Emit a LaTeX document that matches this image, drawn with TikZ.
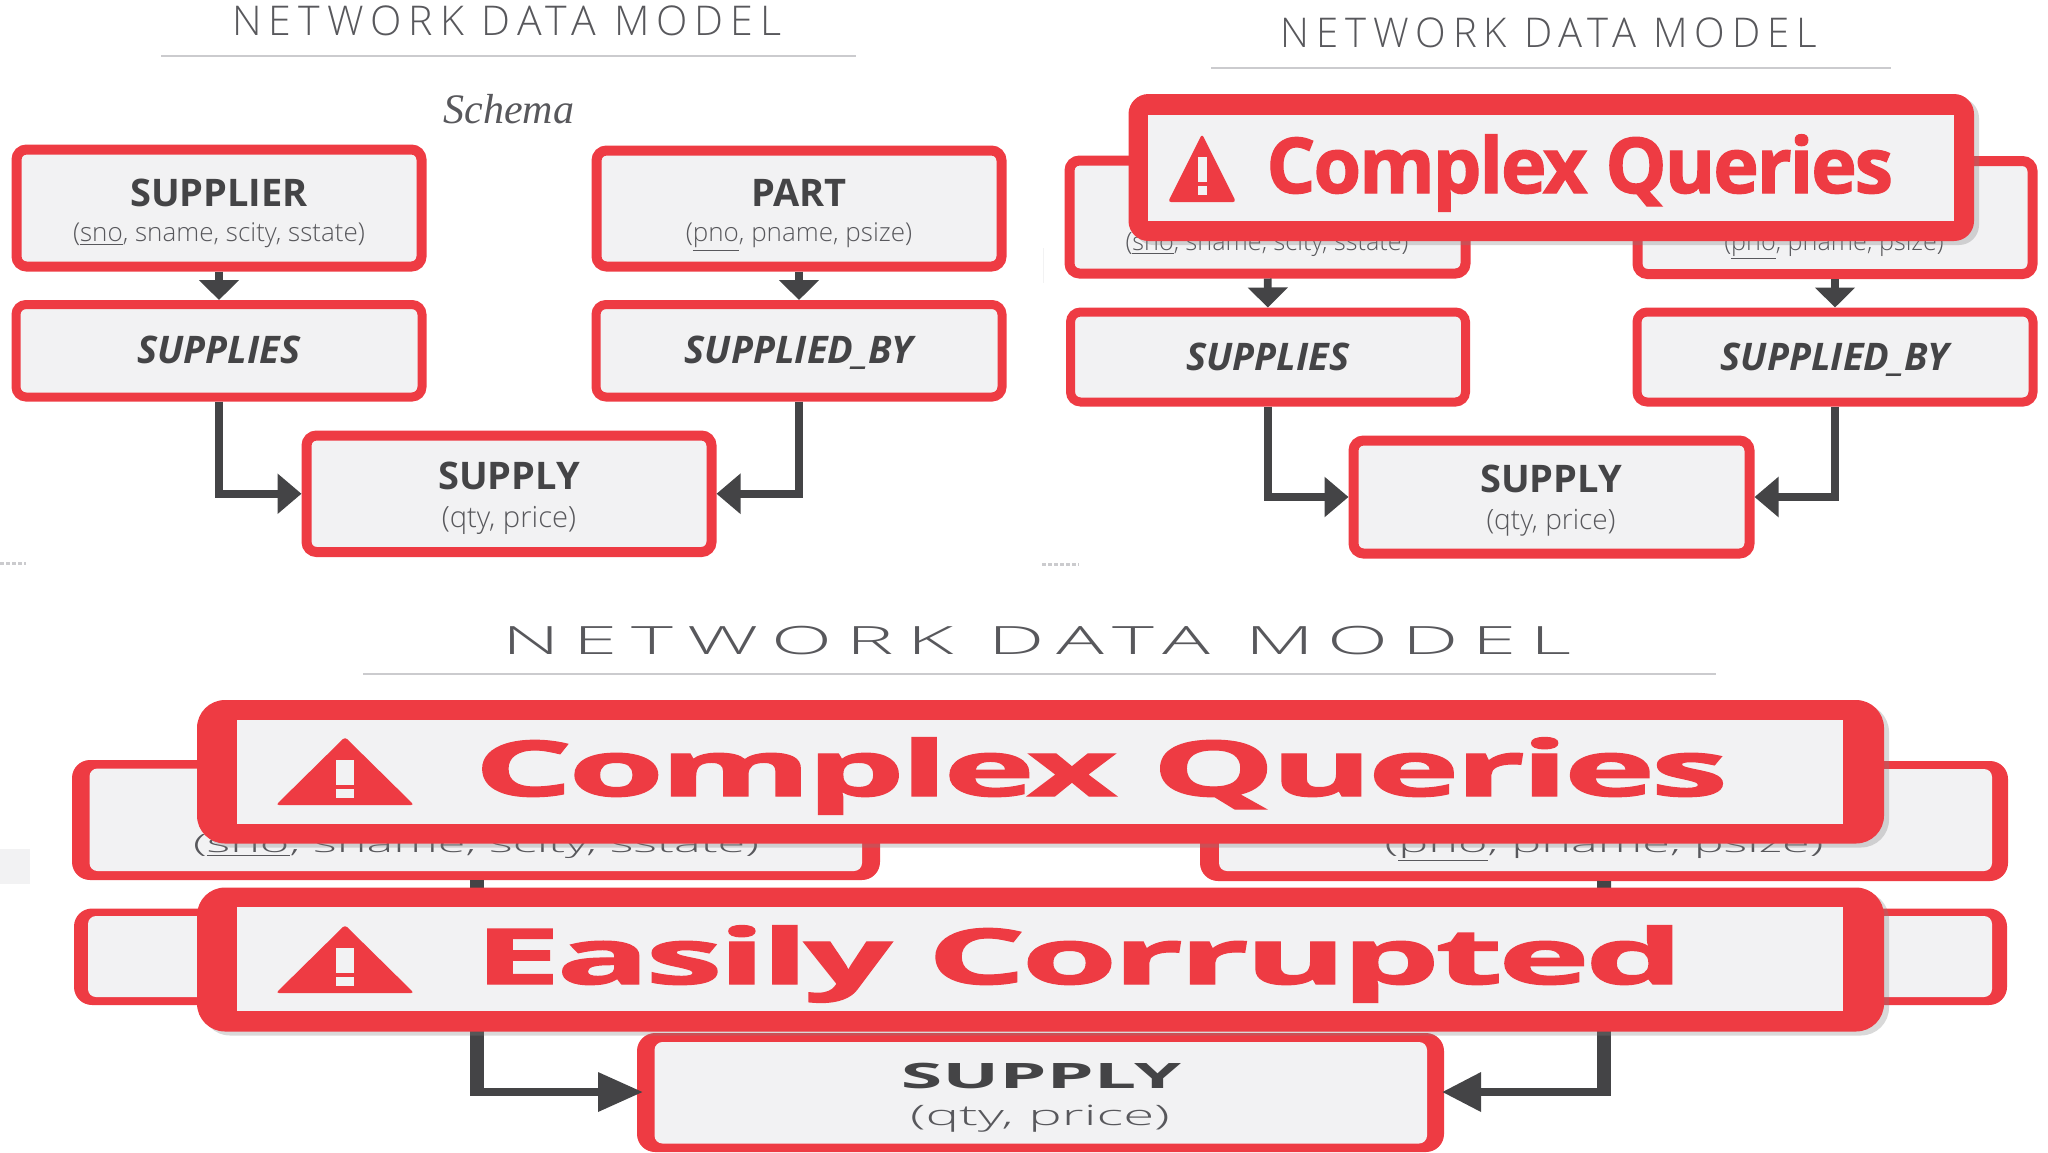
\documentclass[tikz,border=0pt]{standalone}
\usepackage{fontspec}
\setmainfont{Open Sans}
\newfontfamily\titlefont[LetterSpace=17.3]{Open Sans Light}
\newfontfamily\fieldfont{Open Sans Light}
\newfontfamily\alertfont[FakeBold=1.6,LetterSpace=-2.6]{Open Sans Bold}
\newfontfamily\schemafont{Liberation Serif}
\usetikzlibrary{positioning}
\usetikzlibrary{fit}
\usetikzlibrary{arrows.meta}
\usetikzlibrary{shadows}
\definecolor{alertred}{HTML}{EE3B43}
\definecolor{boxgray}{HTML}{F2F2F3}
\definecolor{inkdark}{HTML}{444446}
\definecolor{inksoft}{HTML}{58585C}
\definecolor{rulegray}{HTML}{CBCBCE}
\tikzstyle{entity} = [draw=alertred, fill=boxgray, line width=5pt, rounded corners=5pt, inner sep=0pt]
\tikzstyle{relation} = [entity, line width=4.5pt]
\tikzstyle{wideouter} = [fill=alertred, rounded corners=9pt, inner sep=0pt, outer sep=0pt]
\tikzstyle{wideinner} = [fill=boxgray, rounded corners=4pt, inner sep=0pt, outer sep=0pt]
\tikzstyle{alertouter} = [wideouter, rounded corners=14pt, drop shadow={shadow xshift=2.5pt, shadow yshift=-2pt, opacity=.3}]
\tikzstyle{alertinner} = [fill=boxgray, inner sep=0pt, outer sep=0pt]
\tikzstyle{alerttext} = [anchor=base west, inner sep=0pt, text=alertred, font=\fontsize{38.5}{40}\selectfont\alertfont]
\tikzstyle{heading} = [anchor=base, inner sep=0pt, text=inkdark, font=\fontsize{19}{20}\selectfont\bfseries]
\tikzstyle{relname} = [heading, font=\fontsize{19}{20}\selectfont\bfseries\itshape]
\tikzstyle{fields} = [anchor=base, inner sep=0pt, text=inksoft, font=\fontsize{12.6}{14}\selectfont\fieldfont]
\tikzstyle{modeltitle} = [anchor=base, inner sep=0pt, text=inksoft, font=\fontsize{20.5}{22}\selectfont\titlefont]
\tikzstyle{titlerule} = [draw=rulegray, line width=1pt]
\tikzstyle{link} = [draw=inkdark, line width=3.8pt]
\tikzstyle{downlink} = [link, -{Triangle[length=10pt,width=19.5pt]}]
\tikzstyle{sidelink} = [link, -{Triangle[length=12pt,width=19.5pt]}]
\tikzstyle{smudge} = [draw=rulegray, line width=1.5pt, dash pattern=on 2pt off 1pt]
\newcommand{\warnsign}[2]{% base point, x stretch
  \begin{scope}[shift={#1},xscale=#2]
    \fill[alertred,rounded corners=1.5pt] (-34,0) -- (0,-68) -- (34,0) -- cycle;
    \fill[boxgray] (-4.5,-45) rectangle (4.5,-20);
    \fill[boxgray] (-4.5,-16) rectangle (4.5,-7.5);
  \end{scope}}
\newcommand{\wide}[1]{\scalebox{2}[1]{#1}}

\begin{document}
\begin{tikzpicture}[x=0.5pt,y=-0.5pt]
    \useasboundingbox (0,0) rectangle (2048,1152);

    % first slide
    \node [modeltitle] (title) at (507,35) {NETWORK DATA MODEL};
    \coordinate (ruleA) at (161,55.5);
    \coordinate (ruleB) at (856,55.5);
    \draw [titlerule] (ruleA) -- (ruleB);
    \node [anchor=base, inner sep=0pt, text=inksoft, font=\fontsize{21}{22}\selectfont\schemafont\itshape] (schema) at (509,123) {Schema};
    \coordinate (smudgeA) at (0,563);
    \coordinate (smudgeB) at (26,563);
    \draw [smudge] (smudgeA) -- (smudgeB);

    \node [entity, fit={(16.5,149.5)(421.5,266.5)}] (supplier) {};
    \node [entity, fit={(596.5,150.5)(1001.5,266.5)}] (part) {};
    \node [relation, fit={(16,304.5)(422,397)}] (supplies) {};
    \node [relation, fit={(596,304.5)(1002,397)}] (suppliedby) {};
    \node [entity, fit={(306.5,435.5)(711.5,552)}] (supply) {};

    \node [heading] (suppliername) at (219,206) {SUPPLIER};
    \node [fields, font=\fontsize{13}{14}\selectfont\fieldfont] (supplierfields) at (219,241) {(\underline{sno}, sname, scity, sstate)};
    \node [heading] (partname) at (799,206) {PART};
    \node [fields, font=\fontsize{13}{14}\selectfont\fieldfont] (partfields) at (799,241) {(\underline{pno}, pname, psize)};
    \node [relname] (suppliesname) at ([yshift=-6.5pt]supplies.center) {SUPPLIES};
    \node [relname] (suppliedbyname) at ([yshift=-6.5pt]suppliedby.center) {SUPPLIED\_BY};
    \node [heading] (supplyname) at (509,489) {SUPPLY};
    \node [fields, font=\fontsize{14.6}{15}\selectfont\fieldfont] (supplyfields) at (509,527) {(qty, price)};

    \draw [downlink] (supplier) -- (supplies);
    \draw [downlink] (part) -- (suppliedby);
    \draw [sidelink] (supplies.south) |- (supply.west);
    \draw [sidelink] (suppliedby.south) |- (supply.east);

    % second slide
    \node [modeltitle] (title2) at (1549,47) {\scalebox{0.976}[1]{NETWORK DATA MODEL}};
    \coordinate (rule2A) at (1211,67.5);
    \coordinate (rule2B) at (1891,67.5);
    \draw [titlerule] (rule2A) -- (rule2B);
    \fill [boxgray] (1042.5,248) rectangle (1043.5,283);
    \coordinate (smudgeC) at (1042,564);
    \coordinate (smudgeD) at (1079,564);
    \draw [smudge] (smudgeC) -- (smudgeD);

    \node [entity, fit={(1069.5,160.5)(1465.5,273.5)}] (supplier2) {};
    \node [entity, fit={(1637.5,161)(2032.5,274)}] (part2) {};
    \node [relation, fit={(1070.5,312)(1465.5,402)}] (supplies2) {};
    \node [relation, fit={(1637,312)(2033,402)}] (suppliedby2) {};
    \node [entity, fit={(1353.5,440.5)(1749.5,553.5)}] (supply2) {};

    \node [fields] (supplierfields2) at (1267,250) {(\underline{sno}, sname, scity, sstate)};
    \node [fields] (partfields2) at (1834,250) {(\underline{pno}, pname, psize)};
    \node [relname] (suppliesname2) at ([yshift=-6.5pt]supplies2.center) {SUPPLIES};
    \node [relname] (suppliedbyname2) at ([yshift=-6.5pt]suppliedby2.center) {SUPPLIED\_BY};
    \node [heading] (supplyname2) at (1551,492) {SUPPLY};
    \node [fields, font=\fontsize{14}{15}\selectfont\fieldfont] (supplyfields2) at (1551,529) {(qty, price)};

    \draw [downlink] (supplier2) -- (supplies2);
    \draw [downlink] (part2) -- (suppliedby2);
    \draw [sidelink] (supplies2.south) |- (supply2.west);
    \draw [sidelink] (suppliedby2.south) |- (supply2.east);

    \node [alertouter, rounded corners=10pt, fit={(1128.5,94)(1974,241)}] (complex2) {};
    \node [alertinner, fit={(1148,115)(1954,221)}] (complexin2) {};
    \warnsign{(1202,202)}{1}
    \node [alerttext] (complextext2) at (1266,193) {Complex Queries};

    % third slide, stretched sideways
    \fill [boxgray] (0,849) rectangle (30,884);
    \node [modeltitle, font=\fontsize{19.5}{22}\selectfont\titlefont] (title3) at (1037,654) {\scalebox{2.045}[1]{NETWORK DATA MODEL}};
    \coordinate (rule3A) at (363,674);
    \coordinate (rule3B) at (1716,674);
    \draw [titlerule] (rule3A) -- (rule3B);

    \node [wideouter, fit={(72,760)(880,880)}] (supplier3) {};
    \node [wideinner, fit={(89.5,768.5)(862,871)}] (supplierin3) {};
    \node [wideouter, fit={(1200,761)(2008,881)}] (part3) {};
    \node [wideinner, fit={(1219,769)(1992,871)}] (partin3) {};
    \node [wideouter, fit={(74,908.5)(880,1005)}] (supplies3) {};
    \node [wideinner, fit={(88,916)(866,997)}] (suppliesin3) {};
    \node [wideouter, fit={(1200,908.5)(2007,1005)}] (suppliedby3) {};
    \node [wideinner, fit={(1214,916)(1992,997)}] (suppliedbyin3) {};
    \node [wideouter, fit={(637,1033)(1444,1152)}] (supply3) {};
    \node [wideinner, fit={(654.5,1042)(1427,1143.5)}] (supplyin3) {};

    \node [fields] (supplierfields3) at (476,852) {\wide{(\underline{sno}, sname, scity, sstate)}};
    \node [fields] (partfields3) at (1604,852) {\wide{(\underline{pno}, pname, psize)}};
    \node [heading, font=\fontsize{17.5}{20}\selectfont\bfseries] (supplyname3) at (1041,1088) {\scalebox{2.15}[1]{SUPPLY}};
    \node [fields, font=\fontsize{14.1}{15}\selectfont\fieldfont] (supplyfields3) at (1040,1125) {\wide{(qty, price)}};

    \draw [link, line width=7pt] (supplier3.south -| supplies3.south) -- (supplies3.south);
    \draw [link, line width=7pt] (part3.south) -- (suppliedby3.south);
    \coordinate (bendL) at (supplies3.south |- 0,1092);
    \coordinate (bendR) at (suppliedby3.south |- 0,1092);
    \draw [link, line width=7pt, shorten >=-2pt] (supplies3.south) -- (bendL);
    \draw [link, line width=7pt, shorten >=-2pt] (suppliedby3.south) -- (bendR);
    \draw [link, line width=4pt, -{Triangle[length=22.5pt,width=18.8pt]}, shorten >=-3pt] (bendL) -- (supply3.west |- bendL);
    \draw [link, line width=4pt, -{Triangle[length=19.5pt,width=18.8pt]}, shorten >=-1pt] (bendR) -- (supply3.east |- bendR);

    \node [alertouter, fit={(197,700)(1884,843.5)}] (complex3) {};
    \node [alertinner, fit={(237,720)(1843,824)}] (complexin3) {};
    \warnsign{(345,805)}{2.03}
    \node [alerttext] (complextext3) at (474,796) {\scalebox{2}[1]{Complex Queries}};

    \node [alertouter, fit={(197,887.5)(1884,1031.5)}] (easily3) {};
    \node [alertinner, fit={(237,907)(1843,1011)}] (easilyin3) {};
    \warnsign{(345,993)}{2.03}
    \node [alerttext] (easilytext3) at (474,984) {\scalebox{2}[1]{Easily Corrupted}};
\end{tikzpicture}
\end{document}
